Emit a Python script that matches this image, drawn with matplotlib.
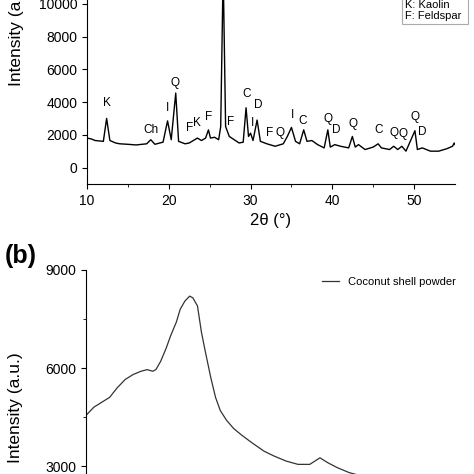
import matplotlib

matplotlib.use("Agg")

import matplotlib.pyplot as plt

# (a) mineral XRD pattern
xrd_theta = [10, 10.5, 11, 12, 12.4, 12.8, 13.5, 14, 15, 16, 17.3, 17.8, 18.3, 19.3, 19.85, 20.3,
             20.85, 21.2, 22, 22.5, 23, 23.5, 24, 24.5, 24.85, 25.1, 25.6, 26.1, 26.35, 26.65, 26.95,
             27.4, 28, 28.6, 29.1, 29.45, 29.75, 30.0, 30.3, 30.8, 31.2, 32, 33, 34, 34.5, 35, 35.5,
             36.0, 36.5, 36.9, 37.5, 38.2, 39, 39.45, 39.75, 40.3, 41, 42, 42.45, 42.8, 43.2, 44, 45,
             45.6, 46, 47, 47.5, 48, 48.5, 49, 50.1, 50.4, 51, 52, 53, 54, 54.7, 54.9, 55]
xrd_int = [1800, 1750, 1650, 1600, 3000, 1650, 1500, 1450, 1420, 1380, 1450, 1700, 1420, 1550, 2850, 1700,
           4550, 1600, 1450, 1500, 1650, 1800, 1650, 1800, 2300, 1800, 1850, 1700, 2500, 12000, 2500,
           1900, 1700, 1500, 1550, 3650, 1900, 2100, 1650, 2900, 1600, 1450, 1300, 1450, 1900, 2450, 1600,
           1450, 2300, 1600, 1650, 1400, 1200, 2300, 1250, 1400, 1300, 1200, 1900, 1250, 1400, 1100, 1250,
           1450, 1200, 1100, 1300, 1100, 1300, 1000, 2250, 1100, 1200, 1000, 1000, 1150, 1300, 1500, 1400]
peak_labels = ["K", "Ch", "I", "Q", "F", "K", "F", "F", "C", "I", "D", "F", "Q", "I", "C",
               "Q", "D", "Q", "C", "Q", "Q", "Q", "D"]
peak_theta = [12.4, 17.8, 19.8, 20.8, 22.6, 23.5, 24.9, 27.6, 29.5, 30.2, 30.9, 32.3, 33.6, 35.1, 36.4,
              39.5, 40.5, 42.5, 45.6, 47.6, 48.6, 50.1, 51.0]
peak_y = [3600, 1950, 3250, 4800, 2050, 2350, 2700, 2400, 4150, 2350, 3450, 1750, 1750, 2850, 2450,
          2600, 1950, 2300, 1950, 1750, 1700, 2700, 1800]
legend_lines = ["Q: Quartz", "C: Calcite", "D: Dolomite", "I: Illite", "Ch: Chlorite",
                "K: Kaolin", "F: Feldspar"]

# (b) coconut shell powder
csp_theta = [10.0, 11.0, 12.0, 13.0, 14.0, 15.0, 16.0, 17.0, 17.8, 18.5, 18.9, 19.5, 20.2, 20.8, 21.5,
             22.0, 22.6, 23.2, 23.6, 24.2, 24.7, 25.2, 25.9, 26.5, 27.1, 27.9, 28.8, 29.8, 31.2, 32.7,
             34, 35.5, 37, 38.5, 39.8, 40.8, 42, 43.5, 45]
csp_int = [4550, 4800, 4950, 5100, 5400, 5650, 5800, 5900, 5950, 5900, 5950, 6200, 6600, 7000, 7400,
           7800, 8050, 8200, 8150, 7900, 7100, 6500, 5700, 5100, 4700, 4400, 4150, 3950, 3700, 3450,
           3300, 3150, 3050, 3050, 3250, 3100, 2950, 2800, 2700]

fig = plt.figure(figsize=(4.74, 4.74), dpi=100)
plt.rcParams["font.family"] = "Liberation Sans"

ax = fig.add_axes([87 / 474, 0.612, 368 / 474, 0.449])
ax.plot(xrd_theta, xrd_int, color="black", lw=1.0)
for lab, x, y in zip(peak_labels, peak_theta, peak_y):
    ax.text(x, y, lab, ha="center", va="bottom", fontsize=8.5)
ax.set_xlim(10, 55)
ax.set_ylim(-1000, 12000)
ax.set_yticks([0, 2000, 4000, 6000, 8000, 10000])
ax.set_xticks([10, 20, 30, 40, 50])
ax.set_xticks(range(15, 55, 10), minor=True)
ax.tick_params(labelsize=10)
ax.spines["top"].set_visible(False)
ax.spines["right"].set_visible(False)
ax.set_xlabel("2θ (°)", fontsize=12, labelpad=4)
ax.set_ylabel("Intensity (a.u.)", fontsize=12.5)
ax.yaxis.set_label_coords(-0.17, 0.72)
ax.text(0.865, 0.765, "\n".join(legend_lines), transform=ax.transAxes, fontsize=8, va="bottom",
        ha="left", linespacing=1.2,
        bbox=dict(boxstyle="square,pad=0.3", fc="white", ec="#aaaaaa", lw=0.8), clip_on=False)

ax2 = fig.add_axes([86 / 474, -90 / 474, 369 / 474, 294 / 474])
ax2.plot(csp_theta, csp_int, color="#333333", lw=0.9, label="Coconut shell powder")
ax2.set_xlim(10, 57)
ax2.set_ylim(0, 9000)
ax2.set_yticks([3000, 6000, 9000])
ax2.set_yticks([4500, 7500], minor=True)
ax2.tick_params(labelsize=10)
ax2.spines["top"].set_visible(False)
ax2.spines["right"].set_visible(False)
ax2.spines["bottom"].set_visible(False)
ax2.set_ylabel("Intensity (a.u.)", fontsize=12.5)
ax2.yaxis.set_label_coords(-0.17, 0.53)
ax2.legend(loc="upper right", bbox_to_anchor=(1.03, 1.01), frameon=False, fontsize=8,
           handlelength=1.6)
fig.text(5 / 474, 1 - 256 / 474, "(b)", fontsize=18, fontweight="bold", va="center")

fig.savefig("out.png", dpi=100)
